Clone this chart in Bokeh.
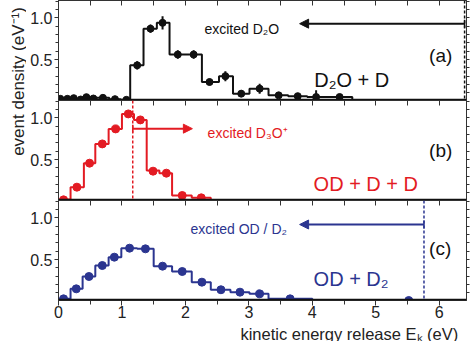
import math
from bokeh.plotting import figure
from bokeh.models import (Range1d, FixedTicker, LinearAxis, Span, Label, Arrow,
                          NormalHead, TeeHead)
from bokeh.layouts import row, column
from bokeh.embed import file_html
from bokeh.resources import INLINE

# ---------------- data ----------------
# panel (a): D2O + D
a_edges = [0, 0.08, 0.19, 0.29, 0.40, 0.49, 0.60, 0.80, 0.98, 1.13, 1.34, 1.55, 1.75,
           2.00, 2.26, 2.53, 2.75, 3.01, 3.31, 3.62, 3.92, 4.20, 4.63, 5.50]
a_vals = [0.028, 0.028, 0.036, 0.020, 0.048, 0.032, 0.040, 0.024, 0.016, 0.43, 0.87,
          0.94, 0.56, 0.56, 0.23, 0.30, 0.09, 0.15, 0.07, 0.06, 0.05, 0.05, 0.0]
a_px = [0.03, 0.14, 0.24, 0.35, 0.44, 0.55, 0.70, 0.89, 1.07, 1.24, 1.45, 1.64, 1.88,
        2.13, 2.38, 2.63, 2.88, 3.17, 3.47, 3.77, 4.06, 4.43]
a_py = [0.028, 0.028, 0.036, 0.020, 0.048, 0.032, 0.040, 0.024, 0.016, 0.43, 0.87,
        0.94, 0.56, 0.56, 0.23, 0.30, 0.09, 0.15, 0.07, 0.06, 0.05, 0.05]
a_err = [0.015, 0.015, 0.015, 0.015, 0.015, 0.015, 0.015, 0.015, 0.015, 0.05, 0.05,
         0.08, 0.05, 0.05, 0.04, 0.06, 0.04, 0.06, 0.03, 0.03, 0.08, 0.03]

# panel (b): OD + D + D
b_edges = [0, 0.19, 0.40, 0.58, 0.79, 1.00, 1.19, 1.39, 1.59, 1.79, 2.10, 2.40, 2.75]
b_vals = [0.02, 0.168, 0.456, 0.687, 0.867, 1.047, 0.975, 0.368, 0.336, 0.068, 0.04, 0.012]
b_px = [0.08, 0.29, 0.49, 0.69, 0.90, 1.10, 1.29, 1.49, 1.70, 1.95, 2.25]
b_py = [0.016, 0.168, 0.456, 0.687, 0.867, 1.047, 0.975, 0.36, 0.336, 0.068, 0.04]

# panel (c): OD + D2
c_edges = [0, 0.19, 0.38, 0.58, 0.79, 0.99, 1.24, 1.50, 1.79, 2.10, 2.40, 2.71, 3.01,
           3.31, 4.00, 5.76]
c_vals = [0.028, 0.148, 0.296, 0.428, 0.528, 0.636, 0.628, 0.42, 0.356, 0.228, 0.137,
          0.108, 0.088, 0.028, 0.008]
c_px = [0.08, 0.28, 0.48, 0.69, 0.88, 1.12, 1.37, 1.64, 1.95, 2.26, 2.56, 2.86, 3.17,
        3.65, 5.52]
c_py = [0.028, 0.148, 0.296, 0.428, 0.528, 0.636, 0.628, 0.42, 0.356, 0.228, 0.137,
        0.108, 0.088, 0.028, 0.008]

# thresholds (dashed lines) and arrow ends
a_thr, a_arrow_end, a_arrow_y = 6.40, 3.80, 0.93
b_thr, b_arrow_end, b_arrow_y = 1.17, 2.11, 0.87
c_thr, c_arrow_end, c_arrow_y = 5.76, 3.80, 0.92

y_ticks = [0.5, 1.0]
y_labels = {0.5: "0.5", 1.0: "1.0"}
y_minor = [0.1, 0.2, 0.3, 0.4, 0.5, 0.6, 0.7, 0.8, 0.9, 1.0, 1.1, 1.2]
x_ticks = [0, 1, 2, 3, 4, 5, 6]
x_minor = [0.5, 1.5, 2.5, 3.5, 4.5, 5.5]
x_top = [0, 0.5, 1, 1.5, 2, 2.5, 3, 3.5, 4, 4.5, 5, 5.5, 6]
x_title = "kinetic energy release  Eₖ (eV)"
y_title = "event density (eV⁻¹)"

BLACK = "#111111"
RED = "#e31b23"
NAVY = "#2b3590"
FONT = "Liberation Sans"
AX = "#333333"

xr = Range1d(0, 6.43)


def make_panel(height, bottom):
    p = figure(width=448, height=height, x_range=xr, y_range=Range1d(0.008, 1.208),
               output_backend="svg", toolbar_location=None,
               x_axis_location="below" if bottom else None,
               min_border_left=32, min_border_right=8, min_border_top=0,
               min_border_bottom=26 if bottom else 0)
    p.xgrid.visible = False
    p.ygrid.visible = False
    p.outline_line_color = AX
    p.outline_line_width = 1
    ya = p.left[0]
    ya.ticker = FixedTicker(ticks=y_ticks, minor_ticks=y_minor)
    ya.major_label_overrides = y_labels
    ya.major_tick_out = 4
    ya.major_tick_in = 0
    ya.minor_tick_out = 3
    ya.minor_tick_in = 0
    ya.major_label_standoff = 2
    ya.major_label_text_font = FONT
    ya.major_label_text_font_size = "16px"
    ya.major_label_text_color = "#222222"
    ya.axis_line_color = AX
    ya.major_tick_line_color = AX
    ya.minor_tick_line_color = AX
    if bottom:
        xa = p.below[0]
        xa.ticker = FixedTicker(ticks=x_ticks, minor_ticks=x_minor)
        xa.major_tick_out = 5
        xa.major_tick_in = 0
        xa.minor_tick_out = 4
        xa.minor_tick_in = 0
        xa.major_label_standoff = 0
        xa.major_label_text_font = FONT
        xa.major_label_text_font_size = "16px"
        xa.major_label_text_color = "#222222"
        xa.axis_line_color = AX
        xa.major_tick_line_color = AX
        xa.minor_tick_line_color = AX
    ra = LinearAxis(ticker=FixedTicker(ticks=[], minor_ticks=y_minor),
                    major_tick_out=0, major_tick_in=0, minor_tick_out=3, minor_tick_in=0,
                    major_label_standoff=0, axis_line_color=AX,
                    minor_tick_line_color=AX)
    p.add_layout(ra, "right")
    ta = LinearAxis(ticker=FixedTicker(ticks=[], minor_ticks=x_top),
                    major_tick_out=0, major_tick_in=0, minor_tick_out=0, minor_tick_in=5,
                    major_label_standoff=0, axis_line_color=AX,
                    minor_tick_line_color=AX)
    p.add_layout(ta, "above")
    return p


def steps(edges, vals):
    return list(edges), list(vals) + [0.0]


def add_common(p, edges, vals, px, py, color, size, thr, arrow_end, arrow_y):
    p.add_layout(Span(location=0.018, dimension="width", line_color=BLACK, line_width=2))
    sx, sy = steps(edges, vals)
    p.step(sx, sy, mode="after", line_color=color, line_width=2)
    p.scatter(px, py, size=size, color=color)
    p.add_layout(Span(location=thr, dimension="height", line_color=color,
                      line_dash="3 2", line_width=1.5))
    p.add_layout(Arrow(x_start=thr, y_start=arrow_y, x_end=arrow_end, y_end=arrow_y,
                       line_color=color, line_width=2,
                       end=NormalHead(size=9, fill_color=color, line_color=color),
                       start=TeeHead(size=8, line_color=color, line_width=1.5)))


def lab(p, x, y, text, size, color, align="left"):
    p.add_layout(Label(x=x, y=y, text=text, text_font=FONT, text_font_size=size,
                       text_color=color, text_align=align, text_baseline="alphabetic"))


def strip(width, height):
    s = figure(width=width, height=height, x_range=Range1d(0, width),
               y_range=Range1d(height, 0), output_backend="svg", toolbar_location=None,
               x_axis_location=None, y_axis_location=None, min_border=0)
    s.xgrid.visible = False
    s.ygrid.visible = False
    s.outline_line_color = None
    return s


# panel a
pa = make_panel(100, False)
add_common(pa, a_edges, a_vals, a_px, a_py, BLACK, 7, a_thr, a_arrow_end, a_arrow_y)
pa.segment(x0=a_px, y0=[v - e for v, e in zip(a_py, a_err)], x1=a_px,
           y1=[v + e for v, e in zip(a_py, a_err)], line_color=BLACK, line_width=2)
lab(pa, 2.30, 0.87, "excited D₂O", "14px", BLACK)
lab(pa, 5.84, 0.55, "(a)", "19px", BLACK)
lab(pa, 4.03, 0.25, "D₂O + D", "20px", BLACK)

# panel b
pb = make_panel(100, False)
add_common(pb, b_edges, b_vals, b_px, b_py, RED, 8, b_thr, b_arrow_end, b_arrow_y)
lab(pb, 2.35, 0.82, "excited D₃O⁺", "14px", RED)
lab(pb, 5.84, 0.61, "(b)", "19px", BLACK)
lab(pb, 4.02, 0.21, "OD + D + D", "20px", RED)

# panel c
pc = make_panel(126, True)
add_common(pc, c_edges, c_vals, c_px, c_py, NAVY, 8, c_thr, c_arrow_end, c_arrow_y)
lab(pc, 2.08, 0.87, "excited OD / D₂", "14px", NAVY)
lab(pc, 5.84, 0.63, "(c)", "19px", BLACK)
lab(pc, 4.02, 0.27, "OD + D₂", "20px", NAVY)

# x label strip (right-aligned title under the bottom panel)
xl = strip(448, 15)
xl.add_layout(Label(x=444, y=7, text=x_title, text_font=FONT,
                    text_font_size="16.5px", text_color="#222222", text_align="right",
                    text_baseline="alphabetic"))

# y label strip
yl = strip(26, 341)
yl.add_layout(Label(x=17.5, y=81, text=y_title, angle=math.pi / 2,
                    text_font=FONT, text_font_size="17px", text_color="#222222",
                    text_align="center", text_baseline="middle"))

layout = row(yl, column(pa, pb, pc, xl))
open("out.html", "w").write(file_html(layout, INLINE))
